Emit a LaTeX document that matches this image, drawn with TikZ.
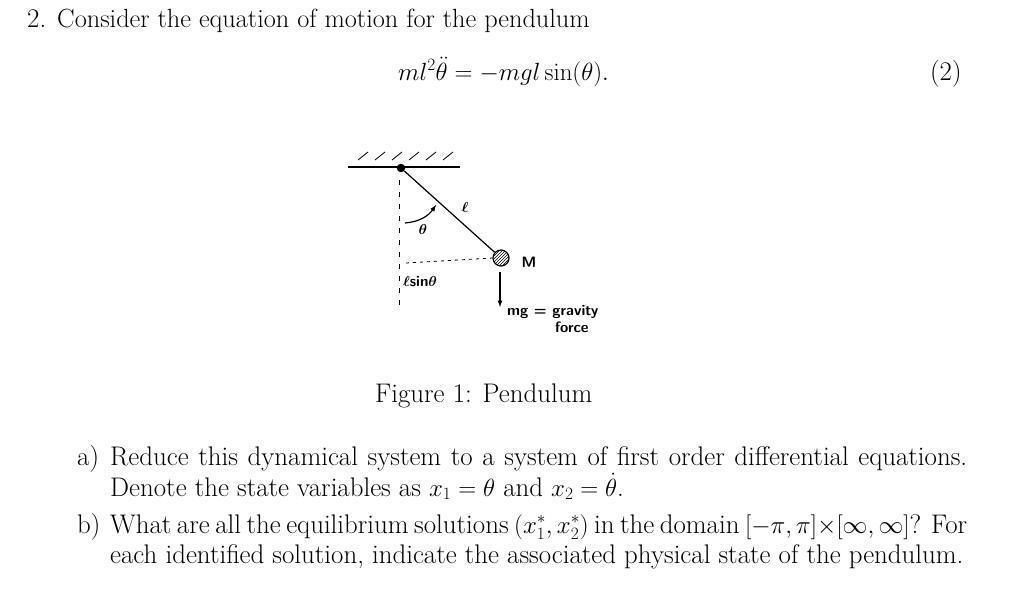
\documentclass[tikz,border=0pt]{standalone}
\usepackage{amsmath}
\usetikzlibrary{patterns}

\begin{document}
\begin{tikzpicture}[x=1pt,y=-1pt,
    txt/.style={anchor=base west,inner sep=0pt,font=\fontsize{26.9}{32}\selectfont},
    hand/.style={inner sep=0pt,font=\sffamily\bfseries\fontsize{15}{16}\selectfont}]
    \useasboundingbox (0,0) rectangle (1024,603);

    % text
    \node[txt] (qn) at (27,27) {2.};
    \node[txt,font=\fontsize{26.3}{32}\selectfont] (q) at (57,27) {Consider the equation of motion for the pendulum};
    \node[txt,font=\fontsize{24.5}{29}\selectfont] (eq) at (398,80) {$ml^2\ddot{\theta} = -mgl\sin(\theta).$};
    \node[txt] (num) at (930,80) {(2)};
    \node[txt] (cap) at (375,402) {Figure 1: Pendulum};
    \node[txt] (la) at (77,465) {a)};
    \node[txt] (a1) at (110,465) {\hbox to 857pt{Reduce this dynamical system to a system of first order differential equations.}};
    \node[txt] (a2) at (110,496) {Denote the state variables as $x_1=\theta$ and $x_2=\dot{\theta}$.};
    \node[txt] (lb) at (77,533) {b)};
    \node[txt] (b1) at (110,533) {\hbox to 857pt{What are all the equilibrium solutions $(x_1^*,x_2^*)$ in the domain $[-\pi,\pi]{\times}[\infty,\infty]$? For}};
    \node[txt] (b2) at (110,563) {each identified solution, indicate the associated physical state of the pendulum.};

    % pendulum
    \draw[very thick] (348,167) -- (460,167);
    \foreach \x in {368,385,402,419,436,453}
        \draw[thick] (\x-10,160) -- (\x,152);
    \coordinate (piv) at (401,168);
    \node[circle,fill=black,inner sep=3pt] (p) at (piv) {};
    \node[circle,draw,very thick,pattern=north east lines,minimum size=16pt,inner sep=0pt] (m) at (501,258) {};
    \draw[very thick] (p) -- (m);
    \draw[thick,dash pattern=on 5pt off 7pt] (399,180) -- (399,310);
    \draw[thick,dash pattern=on 3pt off 4pt] (406,263) -- (m.west);
    \draw[-latex,very thick] (500,272) -- (500,307);
    \draw[-latex,very thick] (405,223) to[bend right=25] (436,205);
    \node[hand] (l) at (465,207) {$\boldsymbol{\ell}$};
    \node[hand] (th) at (423,229) {$\boldsymbol{\theta}$};
    \node[hand] (M) at (529,262) {M};
    \node[hand] (ls) at (420,282) {$\boldsymbol{\ell}$sin$\boldsymbol{\theta}$};
    \node[hand,anchor=west] (g) at (507,312) {mg = gravity};
    \node[hand,anchor=west] (f) at (555,327) {force};
\end{tikzpicture}
\end{document}
